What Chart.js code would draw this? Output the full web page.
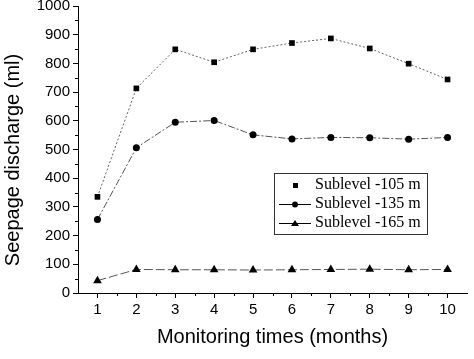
<!DOCTYPE html>
<html>
<head>
<meta charset="utf-8">
<script src="https://cdn.jsdelivr.net/npm/chart.js@4/dist/chart.umd.min.js"></script>
<style>
  html, body { margin: 0; padding: 0; background: #fff; }
  #wrap { width: 474px; height: 359px; position: relative; }
</style>
</head>
<body>
<div id="wrap"><canvas id="grafico" width="474" height="359"></canvas></div>
<script>
const meses = [1, 2, 3, 4, 5, 6, 7, 8, 9, 10]
const sub105 = [335, 713, 849, 804, 849, 871, 887, 852, 799, 744]
const sub135 = [256, 506, 595, 601, 551, 537, 542, 541, 536, 542]
const sub165 = [43, 82, 81, 81, 80, 81, 82, 83, 81, 82]
const etiquetas = ['Sublevel -105 m', 'Sublevel -135 m', 'Sublevel -165 m']
const tituloY = 'Seepage discharge (ml)'

function puntos(valores){
    return meses.map((m, i) => ({x: m, y: valores[i]}))
}

// ticks menores, titulo Y y leyenda dentro del area
const extras = {
    id: 'extras',
    afterDraw(chart){
        const {ctx} = chart
        const x = chart.scales.x
        const y = chart.scales.y
        ctx.save()
        ctx.strokeStyle = '#000'
        ctx.lineWidth = 1
        ctx.beginPath()
        for(let v = 50; v < 1000; v += 100){
            const py = Math.round(y.getPixelForValue(v)) + 0.5
            ctx.moveTo(x.left - 3, py)
            ctx.lineTo(x.left, py)
        }
        for(let v = 1.5; v < 10.5; v += 1){
            const px = Math.round(x.getPixelForValue(v)) + 0.5
            ctx.moveTo(px, y.bottom)
            ctx.lineTo(px, y.bottom + 3)
        }
        ctx.stroke()

        // titulo eje Y
        ctx.save()
        ctx.translate(13, 160)
        ctx.rotate(-Math.PI / 2)
        ctx.font = '20px "Liberation Sans"'
        ctx.textAlign = 'center'
        ctx.textBaseline = 'middle'
        ctx.fillStyle = '#000'
        ctx.fillText(tituloY, 0, 0)
        ctx.restore()

        // leyenda
        const lx = 274, ly = 173, lw = 153, lh = 61
        ctx.strokeStyle = '#333'
        ctx.strokeRect(lx + 0.5, ly + 0.5, lw, lh)
        ctx.font = '16px "Liberation Serif"'
        ctx.textBaseline = 'middle'
        ctx.fillStyle = '#000'
        ctx.strokeStyle = '#000'
        const filas = [ly + 12, ly + 31, ly + 50]
        filas.forEach((fy, i) => {
            ctx.fillText(etiquetas[i], 315, fy)
            ctx.beginPath()
            if(i > 0){
                ctx.moveTo(279, fy + 0.5)
                ctx.lineTo(311, fy + 0.5)
                ctx.stroke()
            }
            ctx.beginPath()
            if(i == 0){
                ctx.fillRect(293, fy - 2, 5, 5)
            }
            else if(i == 1){
                ctx.arc(295, fy + 0.5, 3, 0, Math.PI * 2)
                ctx.fill()
            }
            else{
                ctx.moveTo(295, fy - 3)
                ctx.lineTo(299, fy + 3)
                ctx.lineTo(291, fy + 3)
                ctx.closePath()
                ctx.fill()
            }
        })
        ctx.restore()
    }
}

const contexto = document.getElementById('grafico').getContext('2d')
const grafico = new Chart(contexto, {
    type: 'line',
    data: {
        datasets: [{
            label: etiquetas[0],
            data: puntos(sub105),
            borderColor: '#666',
            borderWidth: 1,
            borderDash: [2, 2],
            pointStyle: 'rect',
            pointRadius: 4,
            pointBackgroundColor: '#000',
            pointBorderColor: '#000',
            pointBorderWidth: 0
        }, {
            label: etiquetas[1],
            data: puntos(sub135),
            borderColor: '#555',
            borderWidth: 1,
            borderDash: [7, 2, 2, 2],
            pointStyle: 'circle',
            pointRadius: 3.5,
            pointBackgroundColor: '#000',
            pointBorderColor: '#000',
            pointBorderWidth: 0
        }, {
            label: etiquetas[2],
            data: puntos(sub165),
            borderColor: '#555',
            borderWidth: 1,
            borderDash: [9, 3],
            pointStyle: 'triangle',
            pointRadius: 5,
            pointBackgroundColor: '#000',
            pointBorderColor: '#000',
            pointBorderWidth: 0
        }]
    },
    plugins: [extras],
    options: {
        responsive: false,
        animation: false,
        layout: { padding: { top: 6, right: 7, left: 0, bottom: 0 } },
        plugins: {
            legend: { display: false },
            tooltip: { enabled: false }
        },
        scales: {
            x: {
                type: 'linear',
                min: 0.5,
                max: 10.5,
                afterBuildTicks: (scale) => { scale.ticks = meses.map(v => ({value: v})) },
                afterFit: (scale) => { scale.height = 66 },
                border: { color: '#000', width: 1 },
                grid: { drawOnChartArea: false, tickLength: 5, color: '#000' },
                ticks: { color: '#000', font: { family: 'Liberation Sans', size: 15 }, padding: 3, maxRotation: 0 },
                title: { display: true, text: 'Monitoring times (months)', color: '#000', font: { family: 'Liberation Sans', size: 20 }, padding: { top: 0, bottom: 10 } }
            },
            y: {
                min: 0,
                max: 1000,
                afterFit: (scale) => { scale.width = 78; scale.paddingTop = 0; scale.paddingBottom = 0 },
                border: { color: '#000', width: 1 },
                grid: { drawOnChartArea: false, tickLength: 5, color: '#000' },
                ticks: { stepSize: 100, color: '#000', font: { family: 'Liberation Sans', size: 15 }, padding: 3, callback: (v) => String(v) }
            }
        }
    }
})
</script>
</body>
</html>
